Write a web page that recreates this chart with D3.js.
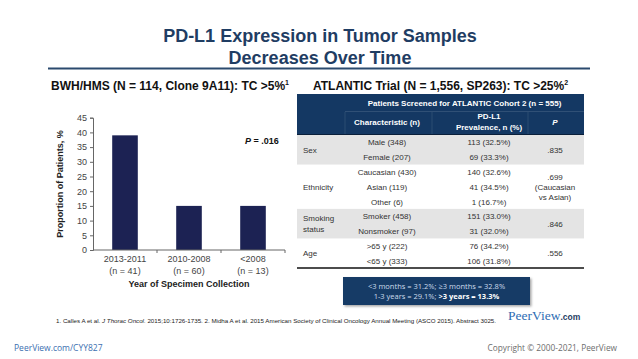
<!DOCTYPE html>
<html><head><meta charset="utf-8">
<script src="https://cdn.jsdelivr.net/npm/d3@7"></script>
<style>html,body{margin:0;padding:0;background:#fff;}svg{display:block;}</style>
</head><body>
<svg id="c" width="638" height="359"></svg>
<script>
// ---- Data ----
const categories = ["2013-2011", "2010-2008", "<2008"];
const nLabels = ["(n = 41)", "(n = 60)", "(n = 13)"];
const values = [39, 15, 15];
const yTicks = [0, 5, 10, 15, 20, 25, 30, 35, 40, 45];

const groupNames = [["Sex"], ["Ethnicity"], ["Smoking", "status"], ["Age"]];
const groupSizes = [2, 3, 2, 2];
const characteristics = ["Male (348)", "Female (207)", "Caucasian (430)", "Asian (119)", "Other (6)", "Smoker (458)", "Nonsmoker (97)", ">65 y (222)", "<65 y (333)"];
const prevalence = ["113 (32.5%)", "69 (33.3%)", "140 (32.6%)", "41 (34.5%)", "1 (16.7%)", "151 (33.0%)", "31 (32.0%)", "76 (34.2%)", "106 (31.8%)"];
const pValues = [[".835"], [".699", "(Caucasian", "vs Asian)"], [".846"], [".556"]];

const svg = d3.select("#c");
const SANS = "'Liberation Sans', Arial, sans-serif";
const OPEN = "'Open Sans', 'Noto Sans', sans-serif";

// ---- Title ----
const titleColor = "#1f3d63";
svg.append("text").attr("x", 320).attr("y", 41.5).attr("text-anchor", "middle")
  .attr("font-family", SANS).attr("font-weight", "bold").attr("font-size", 18).attr("fill", titleColor)
  .text("PD-L1 Expression in Tumor Samples");
svg.append("text").attr("x", 320).attr("y", 63.5).attr("text-anchor", "middle")
  .attr("font-family", SANS).attr("font-weight", "bold").attr("font-size", 18).attr("fill", titleColor)
  .text("Decreases Over Time");
svg.append("line").attr("x1", 48).attr("x2", 590).attr("y1", 68.5).attr("y2", 68.5)
  .attr("stroke", "#2b4a6e").attr("stroke-width", 2);

// ---- Subtitles ----
const st1 = svg.append("text").attr("x", 289).attr("y", 90).attr("text-anchor", "end")
  .attr("font-family", SANS).attr("font-weight", "bold").attr("font-size", 12).attr("fill", "#111");
st1.append("tspan").text("BWH/HMS (N = 114, Clone 9A11): TC >5%");
st1.append("tspan").attr("font-size", 7).attr("dy", -5).text("1");
const st2 = svg.append("text").attr("x", 313).attr("y", 90)
  .attr("font-family", SANS).attr("font-weight", "bold").attr("font-size", 12).attr("fill", "#111");
st2.append("tspan").text("ATLANTIC Trial (N = 1,556, SP263): TC >25%");
st2.append("tspan").attr("font-size", 7).attr("dy", -5).text("2");

// ---- Bar chart ----
const x = d3.scaleBand().domain(categories).range([93, 285]).padding(0);
const y = d3.scaleLinear().domain([0, 45]).range([250, 117.7]);
const barW = x.bandwidth() * 0.4;
const axisColor = "#666";

svg.append("g").selectAll("rect").data(categories).join("rect")
  .attr("x", (d) => x(d) + (x.bandwidth() - barW) / 2)
  .attr("width", barW)
  .attr("y", (d, i) => y(values[i]))
  .attr("height", (d, i) => y(0) - y(values[i]))
  .attr("fill", "#1c2253");

const yAxis = svg.append("g").attr("transform", "translate(93,0)")
  .call(d3.axisLeft(y).tickValues(yTicks).tickSize(3).tickPadding(3));
yAxis.select(".domain").attr("stroke", axisColor);
yAxis.selectAll(".tick line").attr("stroke", axisColor);
yAxis.selectAll(".tick text").attr("font-family", SANS).attr("font-size", 9).attr("fill", "#444");

const xAxis = svg.append("g").attr("transform", "translate(0,250)");
xAxis.append("line").attr("x1", 93).attr("x2", 285).attr("stroke", axisColor);
xAxis.selectAll(".bt").data(categories).join("line").attr("class", "bt")
  .attr("x1", (d) => x(d) + x.bandwidth()).attr("x2", (d) => x(d) + x.bandwidth())
  .attr("y1", 0).attr("y2", 3).attr("stroke", axisColor);
xAxis.selectAll(".cl").data(categories).join("text").attr("class", "cl")
  .attr("x", (d) => x(d) + x.bandwidth() / 2).attr("y", 12).attr("text-anchor", "middle")
  .attr("font-family", SANS).attr("font-size", 9).attr("fill", "#444").text((d) => d);
xAxis.selectAll(".nl").data(nLabels).join("text").attr("class", "nl")
  .attr("x", (d, i) => x(categories[i]) + x.bandwidth() / 2).attr("y", 23.5).attr("text-anchor", "middle")
  .attr("font-family", SANS).attr("font-size", 9).attr("fill", "#444").text((d) => d);

svg.append("text").attr("x", 189).attr("y", 286.5).attr("text-anchor", "middle")
  .attr("font-family", SANS).attr("font-weight", "bold").attr("font-size", 9).attr("fill", "#222")
  .text("Year of Specimen Collection");
svg.append("text").attr("transform", "translate(63,184) rotate(-90)").attr("text-anchor", "middle")
  .attr("font-family", SANS).attr("font-weight", "bold").attr("font-size", 9).attr("fill", "#222")
  .text("Proportion of Patients, %");
const pt = svg.append("text").attr("x", 245).attr("y", 143.5)
  .attr("font-family", SANS).attr("font-weight", "bold").attr("font-size", 9).attr("fill", "#111");
pt.append("tspan").attr("font-style", "italic").text("P");
pt.append("tspan").text(" = .016");

// ---- Table ----
const tX0 = 297, tX1 = 584;
const colCat = 303, colChar = 387, colPrev = 489, colP = 555;
const headTop = 94, headBot = 135;
const rows = d3.scaleBand().domain(d3.range(characteristics.length)).range([headBot, 268]);
const headFill = "#143863";

svg.append("rect").attr("x", tX0).attr("y", headTop).attr("width", tX1 - tX0).attr("height", headBot - headTop).attr("fill", headFill);
svg.append("line").attr("x1", 345).attr("x2", tX1).attr("y1", 111.5).attr("y2", 111.5).attr("stroke", "rgba(255,255,255,0.12)");
[345, 432, 528].forEach((xx) => svg.append("line").attr("x1", xx).attr("x2", xx).attr("y1", 112).attr("y2", headBot).attr("stroke", "rgba(255,255,255,0.1)"));
svg.append("line").attr("x1", tX0).attr("x2", tX1).attr("y1", headBot - 0.5).attr("y2", headBot - 0.5).attr("stroke", "#0a1f3a").attr("stroke-width", 1);

const hdr = (t, xx, yy, italic) => svg.append("text").attr("x", xx).attr("y", yy).attr("text-anchor", "middle")
  .attr("font-family", SANS).attr("font-weight", "bold").attr("font-size", 8).attr("fill", "#fff")
  .attr("font-style", italic ? "italic" : "normal").text(t);
hdr("Patients Screened for ATLANTIC Cohort 2 (n = 555)", 464.5, 106);
hdr("Characteristic (n)", colChar, 125);
hdr("PD-L1", colPrev, 119);
hdr("Prevalence, n (%)", colPrev, 130);
hdr("P", colP, 125, true);

// group bands
let start = 0;
const groups = groupSizes.map((s, gi) => { const g = { gi, start, size: s }; start += s; return g; });
svg.append("g").selectAll("rect").data(groups.filter((g) => g.gi % 2 === 0)).join("rect")
  .attr("x", tX0).attr("width", tX1 - tX0)
  .attr("y", (g) => rows(g.start)).attr("height", (g) => rows.step() * g.size)
  .attr("fill", "#e4e4e4");

const bodyText = (sel) => sel.attr("font-family", SANS).attr("font-size", 8).attr("fill", "#333");
const center = (g) => rows(g.start) + rows.step() * g.size / 2;

svg.append("g").selectAll("text").data(characteristics).join("text")
  .attr("x", colChar).attr("y", (d, i) => rows(i) + rows.bandwidth() / 2 + 3).attr("text-anchor", "middle")
  .call(bodyText).text((d) => d);
svg.append("g").selectAll("text").data(prevalence).join("text")
  .attr("x", colPrev).attr("y", (d, i) => rows(i) + rows.bandwidth() / 2 + 3).attr("text-anchor", "middle")
  .call(bodyText).text((d) => d);

groups.forEach((g) => {
  const names = groupNames[g.gi];
  names.forEach((n, k) => {
    svg.append("text").attr("x", colCat).attr("y", center(g) + 3 + (k - (names.length - 1) / 2) * 10.5)
      .call(bodyText).text(n);
  });
  const ps = pValues[g.gi];
  ps.forEach((n, k) => {
    svg.append("text").attr("x", colP).attr("y", center(g) + 3 + (k - (ps.length - 1) / 2) * 10)
      .attr("text-anchor", "middle").call(bodyText).text(n);
  });
});
svg.append("line").attr("x1", tX0).attr("x2", tX1).attr("y1", 268).attr("y2", 268).attr("stroke", "#111").attr("stroke-width", 1.6);

// ---- Note box ----
const defs = svg.append("defs");
const f = defs.append("filter").attr("id", "sh").attr("x", "-10%").attr("y", "-30%").attr("width", "120%").attr("height", "160%");
f.append("feDropShadow").attr("dx", 1.5).attr("dy", 1.5).attr("stdDeviation", 1.2).attr("flood-color", "#000").attr("flood-opacity", 0.35);
svg.append("rect").attr("x", 343).attr("y", 277).attr("width", 187).attr("height", 28).attr("fill", "#123a66").attr("filter", "url(#sh)");
svg.append("text").attr("x", 436.5).attr("y", 289).attr("text-anchor", "middle")
  .attr("font-family", OPEN).attr("font-size", 7.5).attr("fill", "#cddcec")
  .text("<3 months = 31.2%; \u22653 months = 32.8%");
const nb = svg.append("text").attr("x", 436.5).attr("y", 298.5).attr("text-anchor", "middle")
  .attr("font-family", OPEN).attr("font-size", 7.5).attr("fill", "#cddcec");
nb.append("tspan").text("1-3 years = 29.1%; ");
nb.append("tspan").attr("font-weight", "bold").attr("fill", "#fff").text(">3 years = 13.3%");

// ---- Footnote ----
const fn = svg.append("text").attr("x", 56).attr("y", 323).attr("font-family", SANS).attr("font-size", 5.3).attr("fill", "#222")
  .attr("textLength", 440).attr("lengthAdjust", "spacingAndGlyphs");
fn.append("tspan").text("1. Calles A et al. ");
fn.append("tspan").attr("font-style", "italic").text("J Thorac Oncol.");
fn.append("tspan").text(" 2015;10:1726-1735. 2. Midha A et al. 2015 American Society of Clinical Oncology Annual Meeting (ASCO 2015). Abstract 3025.");

// ---- Logo / footer ----
const logo = svg.append("text").attr("x", 508).attr("y", 320);
logo.append("tspan").attr("font-family", "'Liberation Serif', 'DejaVu Serif', serif").attr("font-size", 13.5).attr("fill", "#2f6db4").text("PeerView");
logo.append("tspan").attr("font-family", SANS).attr("font-weight", "bold").attr("font-size", 8.5).attr("fill", "#1f3d63").text(".com");

svg.append("text").attr("x", 14).attr("y", 351).attr("font-family", OPEN).attr("font-size", 8.5).attr("fill", "#3b6fb0")
  .text("PeerView.com/CYY827");
svg.append("text").attr("x", 617).attr("y", 351).attr("text-anchor", "end").attr("font-family", OPEN).attr("font-size", 8.3).attr("fill", "#6d6d6d")
  .text("Copyright \u00a9 2000-2021, PeerView");
</script>
</body></html>
